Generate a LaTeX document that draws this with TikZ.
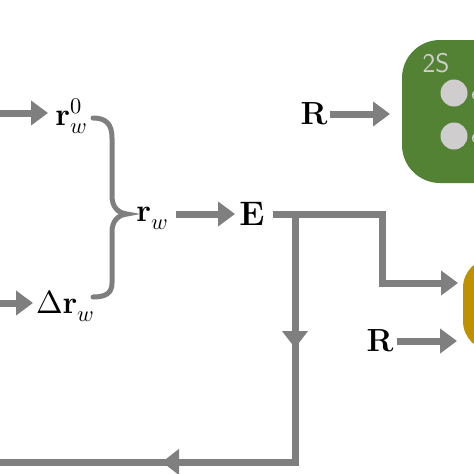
\documentclass[tikz,border=0pt]{standalone}
\usepackage{fontspec}
\usepackage{unicode-math}
\setmathfont{Latin Modern Math}
\usetikzlibrary{arrows.meta,decorations.markings}
\definecolor{lgray}{HTML}{7F7F7F}
\definecolor{dgreen}{HTML}{548235}
\definecolor{gold}{HTML}{BF9000}
\definecolor{cgray}{HTML}{CFCDCD}
\tikzset{
  conn/.style={draw=lgray,line width=7pt,-{Triangle[length=17pt,width=24pt]}},
  plain/.style={draw=lgray,line width=7pt},
  lbl/.style={inner sep=0pt,font=\fontsize{32}{36}\selectfont},
  rlbl/.style={inner sep=0pt,font=\fontsize{32}{34}\selectfont\bfseries},
  elbl/.style={inner sep=0pt,font=\fontsize{34}{36}\selectfont\bfseries},
}
\begin{document}
\begin{tikzpicture}[x=1pt,y=-1pt]
\useasboundingbox (0,0) rectangle (474,474);
\begin{scope}
\clip (0,0) rectangle (474,474);
% green block
\fill[dgreen,rounded corners=38pt] (402,40) rectangle (520,183);
\node[inner sep=0pt,text=cgray,font=\fontsize{27}{29}\sffamily] (s2) at (436,63) {2S};
\fill[cgray] (454,93) circle (13.5);
\fill[cgray] (454,136) circle (13.5);
\node[inner sep=0pt,text=cgray,font=\fontsize{22}{24}\sffamily] (e1) at (476,96) {e};
\node[inner sep=0pt,text=cgray,font=\fontsize{22}{24}\sffamily] (e2) at (476,139) {e};
% gold block
\fill[gold,rounded corners=30pt] (463,258) rectangle (540,351);
\end{scope}
% labels
\node[lbl] (r0) at (71,116) {$\mathbf{r}_{w}^{0}$};
\node[lbl] (dr) at (65,306) {$\Delta\mathbf{r}_{w}$};
\node[lbl] (rw) at (152,218) {$\mathbf{r}_{w}$};
\node[elbl] (E) at (252,214) {E};
\node[rlbl] (R1) at (314,114) {R};
\node[rlbl] (R2) at (380,341) {R};
% free ends / corners
\coordinate (in1) at (0,113);
\coordinate (in2) at (0,303);
\coordinate (t1) at (48,113);
\coordinate (t2) at (33,303);
\coordinate (es) at (273,214);
\coordinate (c1) at (382,214);
\coordinate (c3) at (382,283);
\coordinate (g1) at (458,283);
\coordinate (j) at (295,214);
\coordinate (c2) at (295,462);
\coordinate (out) at (0,462);
\coordinate (gt) at (390,114);
\coordinate (gt2) at (457,341);
% connectors
\draw[conn] (in1) -- (t1);
\draw[conn] (in2) -- (t2);
\draw[conn] (176,214) -- (235,214);
\draw[conn] (330,114) -- (gt);
\draw[conn] (397,341) -- (gt2);
\draw[conn] (es) -- (c1) -- (c3) -- (g1);
\draw[plain,
  postaction={decorate,decoration={markings,
    mark=at position 134pt with {\arrow[lgray]{Triangle[length=17pt,width=25pt]}},
    mark=at position 381pt with {\arrow[lgray]{Triangle[length=17pt,width=25pt]}}}}]
  (j) -- (c2) -- (out);
% brace
\draw[lgray,line width=5pt,line cap=round]
  (93,118) .. controls (106,118) and (112,124) .. (112,138) -- (112,196)
  .. controls (112,207) and (118,213) .. (127,214)
  .. controls (118,215) and (112,221) .. (112,232) -- (112,283)
  .. controls (112,293) and (106,297) .. (93,297);
\end{tikzpicture}
\end{document}
